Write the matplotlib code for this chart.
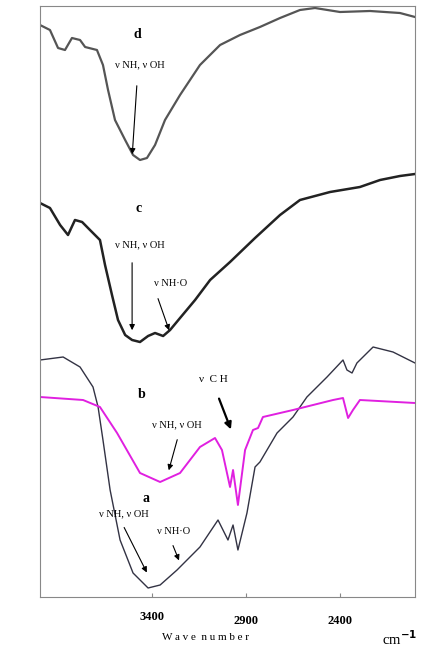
import matplotlib
matplotlib.use("Agg")
import matplotlib.pyplot as plt

# wavenumber (cm-1) and arbitrary transmittance
d_wn = [3996, 3943, 3900, 3863, 3826, 3783, 3756, 3693, 3661, 3634, 3597, 3543, 3501, 3464, 3427,
        3384, 3331, 3251, 3145, 3038, 2932, 2826, 2719, 2613, 2533, 2400, 2240, 2081, 2001]
d_t = [572, 567, 549, 547, 559, 557, 550, 547, 532, 507, 477, 457, 442, 437, 439,
       452, 477, 502, 532, 552, 562, 570, 579, 587, 589, 585, 586, 584, 580]

c_wn = [3996, 3943, 3889, 3847, 3810, 3772, 3730, 3677, 3650, 3613, 3581, 3543, 3506, 3464, 3421,
        3384, 3341, 3304, 3251, 3171, 3091, 2985, 2852, 2719, 2613, 2453, 2294, 2187, 2081, 2001]
c_t = [394, 389, 372, 362, 377, 375, 367, 357, 332, 302, 277, 262, 257, 255, 261,
       264, 261, 267, 279, 297, 317, 335, 359, 382, 397, 405, 410, 417, 421, 423]

a_wn = [3996, 3873, 3783, 3714, 3687, 3661, 3623, 3570, 3501, 3421, 3357, 3267, 3145, 3049, 2996,
        2969, 2943, 2895, 2852, 2826, 2735, 2650, 2576, 2469, 2384, 2363, 2336, 2310, 2224, 2118, 2001]
a_t = [237, 240, 230, 210, 190, 157, 107, 57, 24, 9, 12, 27, 50, 77, 57,
       72, 47, 84, 130, 135, 164, 180, 200, 220, 237, 227, 224, 234, 250, 245, 234]

b_wn = [3996, 3767, 3677, 3586, 3464, 3357, 3251, 3145, 3065, 3028, 2985, 2969, 2943, 2905, 2863,
        2836, 2810, 2650, 2437, 2384, 2357, 2331, 2294, 2001]
b_t = [200, 197, 190, 164, 124, 115, 124, 150, 159, 147, 110, 127, 92, 147, 167,
       169, 180, 187, 197, 199, 179, 187, 197, 194]

ticks = [3400, 2900, 2400]

fig = plt.figure(figsize=(4.48, 6.47), dpi=100)
ax = fig.add_axes([40 / 448, 50 / 647, 375 / 448, 591 / 647])
ax.plot(d_wn, d_t, color="#555555", lw=1.6)
ax.plot(c_wn, c_t, color="#222222", lw=1.8)
ax.plot(a_wn, a_t, color="#333344", lw=1.0)
ax.plot(b_wn, b_t, color="#e020e0", lw=1.4)
ax.set_xlim(3996, 2001)
ax.set_ylim(0, 591)
ax.set_xticks(ticks)
ax.set_xticklabels([])
ax.set_yticks([])
ax.tick_params(axis="x", direction="in", length=3, color="#888888")
for s in ax.spines.values():
    s.set_color("#888888")

serif = "Liberation Serif"
sm = dict(fontsize=7.5, family=serif, ha="center", va="center")
bold = dict(fontsize=10, family=serif, weight="bold", ha="center", va="center")
arr = dict(arrowstyle="-|>", color="black", lw=0.8, mutation_scale=8)

ax.text(3480, 563, "d", **bold)
ax.text(3464, 532, "ν NH, ν OH", **sm)
ax.annotate("", xy=(3506, 440), xytext=(3480, 514), arrowprops=arr)
ax.text(3470, 389, "c", **bold)
ax.text(3464, 352, "ν NH, ν OH", **sm)
ax.annotate("", xy=(3506, 264), xytext=(3506, 337), arrowprops=arr)
ax.text(3304, 313, "ν NH·O", **sm)
ax.annotate("", xy=(3304, 264), xytext=(3373, 301), arrowprops=arr)
ax.text(3075, 217, "ν  C H", fontsize=8, family=serif, ha="center", va="center")
ax.annotate("", xy=(2975, 165), xytext=(3049, 201),
            arrowprops=dict(arrowstyle="-|>", color="black", lw=1.6, mutation_scale=10))
ax.text(3453, 203, "b", **bold)
ax.text(3267, 172, "ν NH, ν OH", **sm)
ax.annotate("", xy=(3315, 124), xytext=(3262, 160), arrowprops=arr)
ax.text(3432, 99, "a", **bold)
ax.text(3550, 83, "ν NH, ν OH", **sm)
ax.annotate("", xy=(3421, 22), xytext=(3555, 72), arrowprops=arr)
ax.text(3283, 66, "ν NH·O", **sm)
ax.annotate("", xy=(3251, 34), xytext=(3294, 54), arrowprops=arr)

for t, yp in zip(ticks, [617, 621, 621]):
    xf = (40 + (3996 - t) / (3996 - 2001) * 375) / 448
    fig.text(xf, 1 - yp / 647, str(t), fontsize=9, family=serif, weight="bold", ha="center", va="center")
fig.text(205 / 448, 1 - 637 / 647, "W a v e  n u m b e r", fontsize=8, family=serif, ha="center", va="center")
fig.text(400 / 448, 1 - 639 / 647, "cm$^{\\mathbf{-1}}$", fontsize=10.5, family=serif, ha="center", va="center")

fig.savefig("out.png", dpi=100)
